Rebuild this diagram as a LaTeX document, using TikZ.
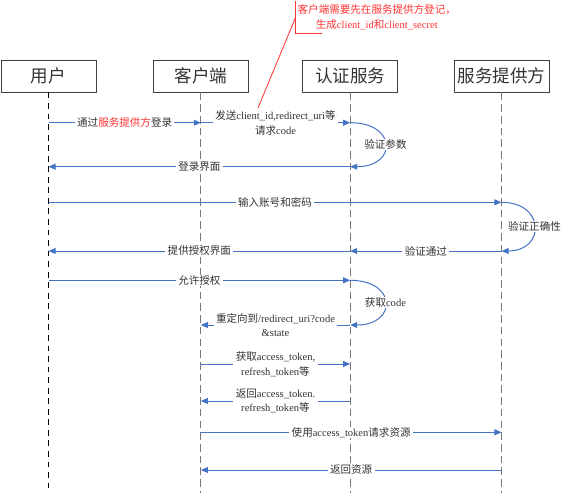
\documentclass[tikz,border=0pt]{standalone}
\usepackage{fontspec}
\setmainfont{Liberation Serif}
\newfontfamily\cjk{Noto Sans CJK SC}
\newcommand\zh[1]{{\cjk #1}}
\usetikzlibrary{arrows.meta}
\definecolor{msgblue}{RGB}{68,114,196}
\definecolor{notered}{RGB}{255,51,51}
\definecolor{lifegray}{RGB}{120,120,120}

\begin{document}
\begin{tikzpicture}[x=0.03cm, y=-0.03cm,
	actor/.style={draw=black!75, line width=0.8pt, minimum width=2.85cm, minimum height=0.96cm, inner sep=0pt, text=black!80, font=\fontsize{15}{18}\selectfont\cjk},
	lifeline/.style={lifegray, line width=1.1pt, dash pattern=on 6.5pt off 3.5pt},
	msg/.style={msgblue, line width=0.85pt, -{Triangle[length=6pt,width=5pt]}},
	lbl/.style={fill=white, inner xsep=2pt, inner ysep=0.5pt, align=center, text=black!80, font=\fontsize{9}{12.5}\selectfont}]
	\useasboundingbox (0,0) rectangle (566,493);
	\coordinate (bottom) at (0,493);

	\node [actor] (user) at (48.5,76) {用户};
	\node [actor] (client) at (200.8,76) {客户端};
	\node [actor] (auth) at (350.2,76) {认证服务};
	\node [actor] (provider) at (501.5,76) {服务提供方};

	\draw [black, line width=0.6pt, dash pattern=on 5pt off 4pt] (user.south) -- (user |- bottom);
	\foreach \a in {client,auth,provider}
		\draw [lifeline] (\a.south) -- (\a |- bottom);

	% message rows on every lifeline
	\foreach \n/\y in {a/122.7, b/166.7, c/202.3, d/251, e/280.3, f/325, g/364, h/401, i/432.3, j/470}
		\foreach \a in {user,client,auth,provider}
			\coordinate (\a-\n) at (\a |- 0,\y);

	\node [anchor=north west, inner xsep=1.5pt, inner ysep=0pt, minimum height=0.95cm, align=center, text=notered, font=\fontsize{9}{12.8}\selectfont] (note) at (295.7,1)
		{\zh{客户端需要先在服务提供方登记，}\\\zh{生成}client\_id\zh{和}client\_secret};
	\coordinate (notetip) at (258,108);
	\draw [notered, line width=0.7pt] ([xshift=0.78cm]note.south west) -- (note.south west) -- (note.north west);
	\draw [notered, line width=0.7pt] (note.west) -- (notetip);

	\draw [msg] (user-a) -- node [lbl] {\zh{通过}\textcolor{notered}{\zh{服务提供方}}\zh{登录}} (client-a);
	\draw [msg] (client-a) -- node [lbl] {\zh{发送}client\_id,redirect\_uri\zh{等}\\\zh{请求}code} (auth-a);
	\draw [msg] (auth-a) .. controls +(47,0) and +(47,0) .. node [lbl] {\zh{验证参数}} (auth-b);
	\draw [msg] (auth-b) -- node [lbl] {\zh{登录界面}} (user-b);
	\draw [msg] (user-c) -- node [lbl] {\zh{输入账号和密码}} (provider-c);
	\draw [msg] (provider-c) .. controls +(44,0) and +(44,0) .. node [lbl] {\zh{验证正确性}} (provider-d);
	\draw [msg] (provider-d) -- node [lbl] {\zh{验证通过}} (auth-d);
	\draw [msg] (auth-d) -- node [lbl] {\zh{提供授权界面}} (user-d);
	\draw [msg] (user-e) -- node [lbl] {\zh{允许授权}} (auth-e);
	\draw [msg] (auth-e) .. controls +(47,0) and +(47,0) .. node [lbl] {\zh{获取}code} (auth-f);
	\draw [msg] (auth-f) -- node [lbl] {\zh{重定向到}/redirect\_uri?code\\\&state} (client-f);
	\draw [msg] (client-g) -- node [lbl] {\zh{获取}access\_token,\\refresh\_token\zh{等}} (auth-g);
	\draw [msg] (auth-h) -- node [lbl] {\zh{返回}access\_token.\\refresh\_token\zh{等}} (client-h);
	\draw [msg] (client-i) -- node [lbl] {\zh{使用}access\_token\zh{请求资源}} (provider-i);
	\draw [msg] (provider-j) -- node [lbl] {\zh{返回资源}} (client-j);
\end{tikzpicture}
\end{document}
